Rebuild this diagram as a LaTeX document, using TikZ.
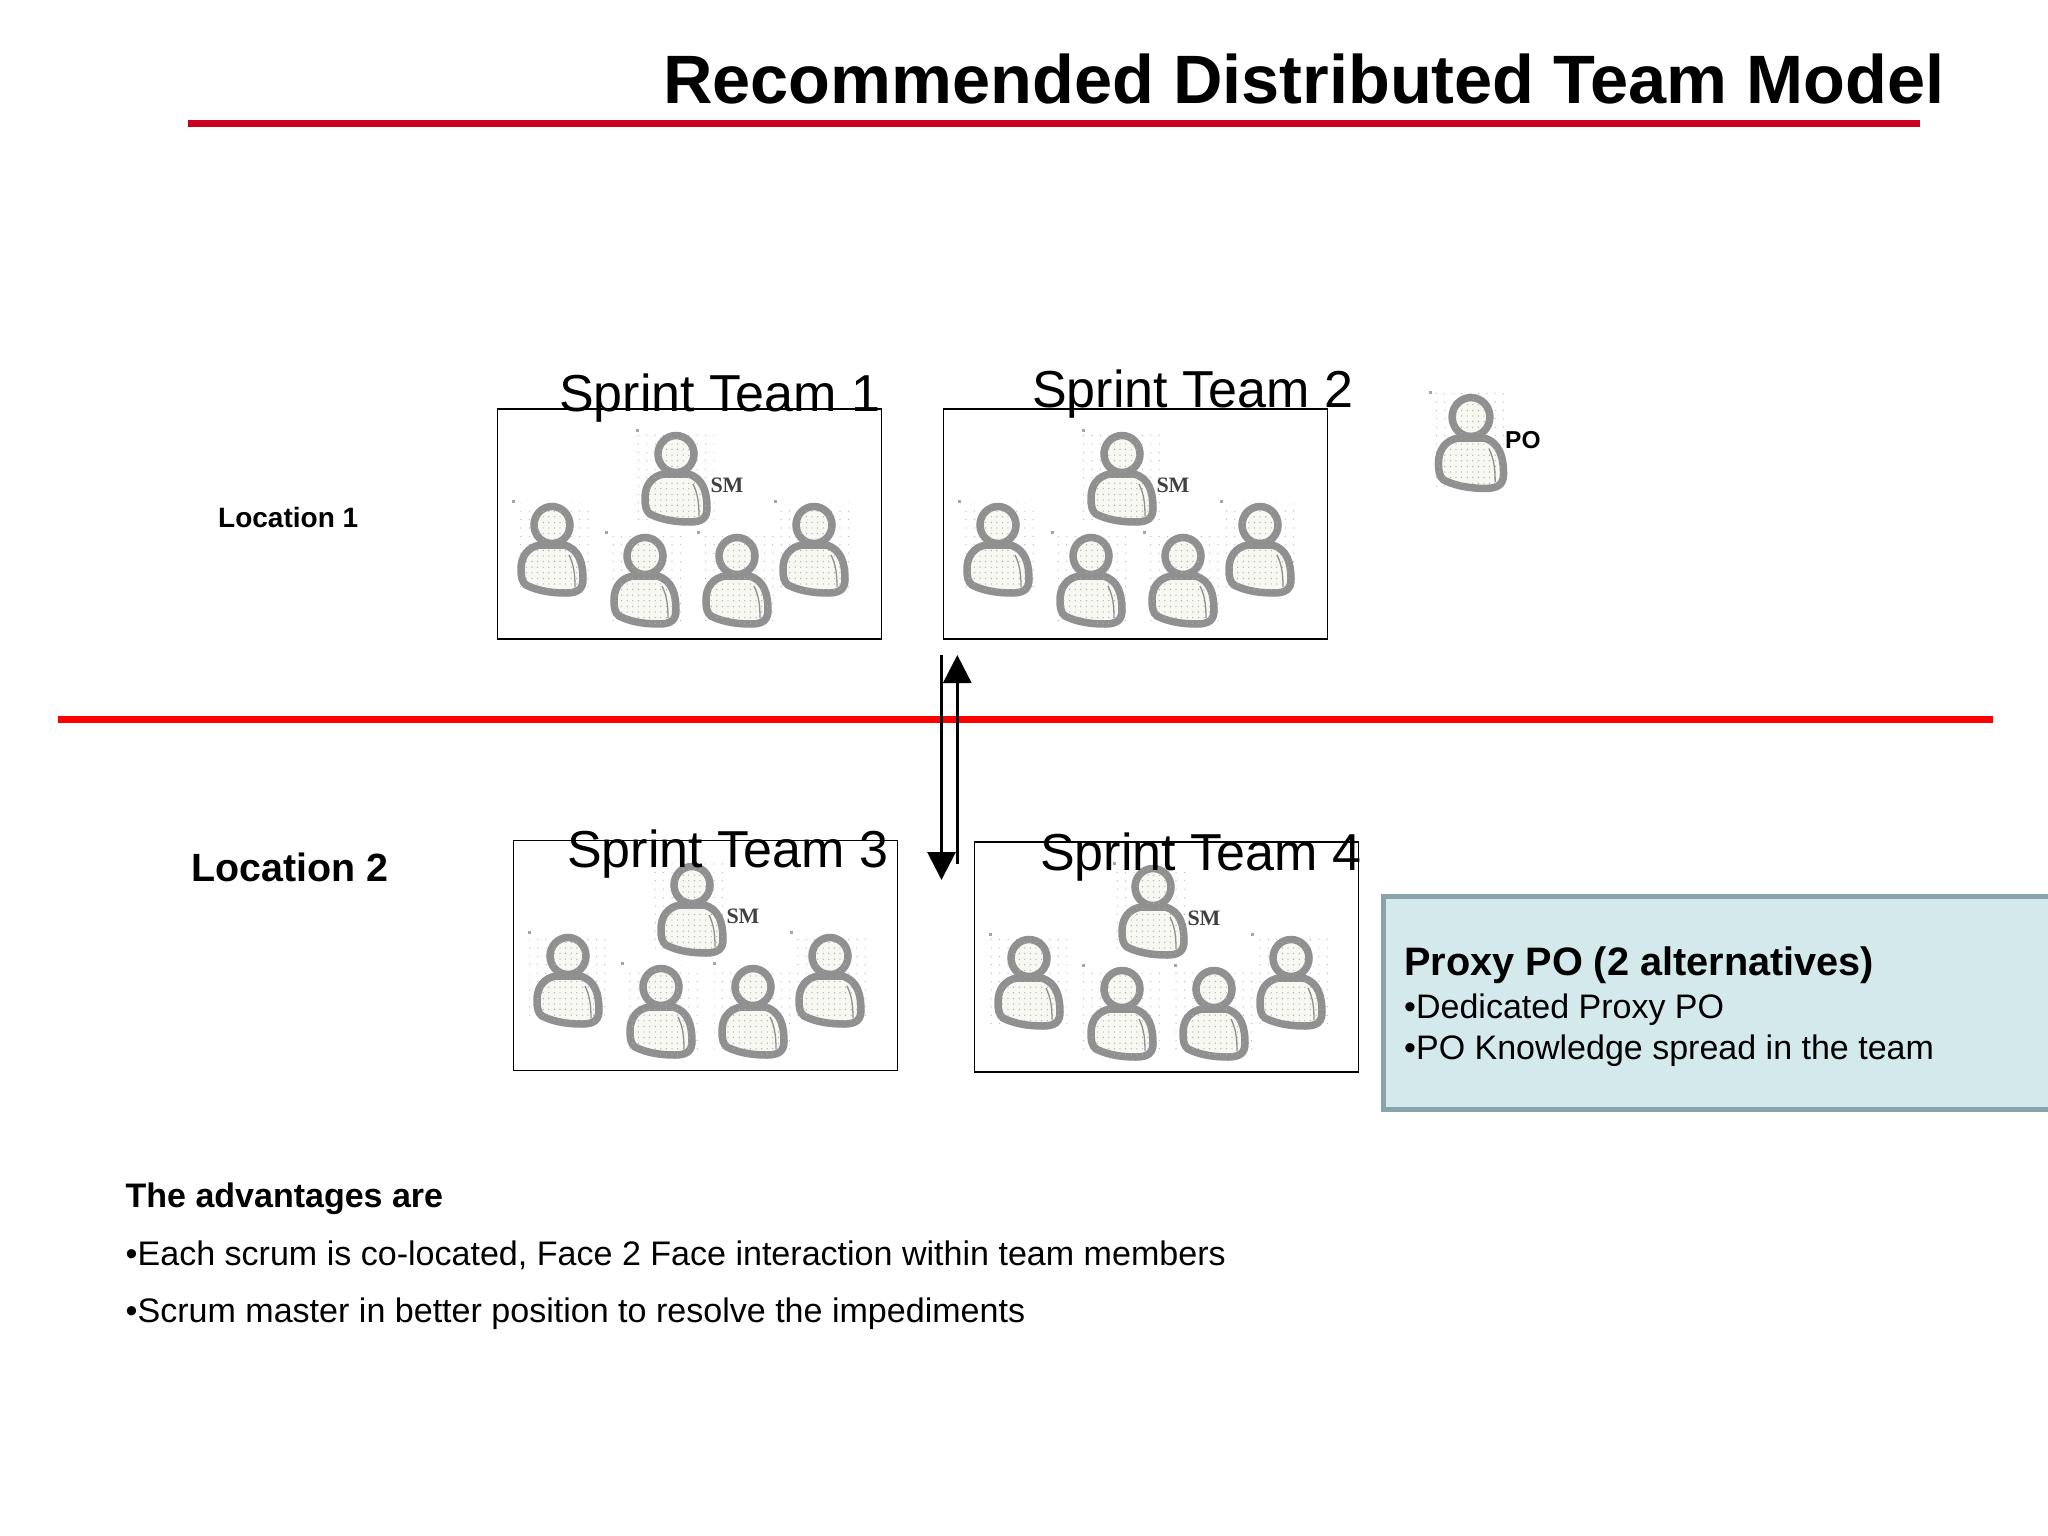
\documentclass[tikz,border=0pt]{standalone}
\usepackage{fontspec}
\setmainfont{Liberation Sans}
\newfontfamily\smfont{Liberation Serif}
\usetikzlibrary{patterns,arrows.meta}
\pgfdeclarepatternformonly{fine dots}{\pgfqpoint{-1pt}{-1pt}}{\pgfqpoint{1pt}{1pt}}{\pgfqpoint{5.6pt}{5.6pt}}{\pgfpathcircle{\pgfpointorigin}{0.7pt}\pgfusepath{fill}}
\pgfdeclarepatternformonly{sparse dots}{\pgfqpoint{-1pt}{-1pt}}{\pgfqpoint{1pt}{1pt}}{\pgfqpoint{8.4pt}{8.4pt}}{\pgfpathcircle{\pgfpointorigin}{0.6pt}\pgfusepath{fill}}
\definecolor{personline}{HTML}{909090}
\definecolor{personfill}{HTML}{F8F8F2}
\definecolor{titlered}{HTML}{C8001E}
\definecolor{boxfill}{HTML}{D3E9EC}
\definecolor{boxline}{HTML}{8AA4AB}
\newcommand{\bodypath}{(-12,20) .. controls (-24,22) and (-31,31) .. (-31,44) .. controls (-31,52) and (-30,57) .. (-26,60) .. controls (-18,64) and (-6,68) .. (14,68) .. controls (26,68) and (31,64) .. (31,54) .. controls (31,40) and (28,24) .. (12,20) -- cycle}
\newcommand{\headpath}{(0,0) ellipse [x radius=18, y radius=18.5]}
\tikzset{
  x=1pt,y=-1pt,
  person/.pic={
    \fill[pattern=sparse dots,pattern color=black!32] (-39,-22) rectangle (38,66);
    \fill[gray!70] (-40,-25) rectangle (-37,-22);
    \fill[personfill] \bodypath;
    \draw[personline,line width=7.5pt] \bodypath;
    \fill[pattern=fine dots,pattern color=black!32] \bodypath;
    \draw[personline,line width=1.3pt] (17,30) .. controls (22,40) and (23,50) .. (23,62);
    \fill[personfill] \headpath;
    \draw[personline,line width=7.5pt] \headpath;
    \fill[pattern=fine dots,pattern color=black!32] \headpath;
  },
  teambox/.style={draw=black,line width=1.6pt,fill=white,minimum width=384pt,minimum height=230pt,inner sep=0pt,anchor=north west},
  teamlabel/.style={font=\fontsize{52}{52}\selectfont,anchor=base west,inner sep=0pt},
  smlabel/.style={font=\smfont\bfseries\fontsize{22}{22}\selectfont,text=black!75,inner sep=0pt},
  plain/.style={anchor=base west,inner sep=0pt},
  flow/.style={line width=3pt,-{Triangle[length=28pt,width=28pt]},shorten >=0pt},
  rule/.style={line width=7pt},
}
\begin{document}
\begin{tikzpicture}
\useasboundingbox (0,0) rectangle (2048,1536);
\fill[white] (0,0) rectangle (2048,1536);

\node[plain,font=\bfseries\fontsize{68.5}{70}\selectfont] (title) at (663,104) {Recommended Distributed Team Model};
\coordinate (ruleAa) at (188,124);
\coordinate (ruleAb) at (1920,124);
\draw[rule,draw=titlered] (ruleAa) -- (ruleAb);

\node[teambox] (box1) at (496.5,408) {};
\node[teambox] (box2) at (942.5,408) {};
\node[teambox] (box3) at (512.5,839.5) {};
\node[teambox] (box4) at (973.5,841) {};

\foreach \ox/\oy in {0/0,446/0,16/431,477/433}{
  \begin{scope}[shift={(\ox,\oy)}]
    \pic at (676,454) {person};
    \pic at (552,525) {person};
    \pic at (645,556) {person};
    \pic at (737,556) {person};
    \pic at (814,525) {person};
  \end{scope}
}
\node[smlabel] (sm1) at (727,485) {SM};
\node[smlabel] (sm2) at (1173,485) {SM};
\node[smlabel] (sm3) at (743,916) {SM};
\node[smlabel] (sm4) at (1204,918) {SM};

\node[teamlabel] (lab1) at (559,411) {Sprint Team 1};
\node[teamlabel] (lab2) at (1032,407) {Sprint Team 2};
\node[teamlabel] (lab3) at (567,867) {Sprint Team 3};
\node[teamlabel] (lab4) at (1040,870) {Sprint Team 4};

\pic[scale=1.05] at (1471,417) {person};
\node[plain,font=\bfseries\fontsize{24.5}{24}\selectfont] (po) at (1505,448) {PO};

\node[plain,font=\bfseries\fontsize{28}{28}\selectfont] (loc1) at (218,527) {Location 1};
\node[plain,font=\bfseries\fontsize{39.4}{40}\selectfont] (loc2) at (191,881) {Location 2};

\coordinate (ruleBa) at (58,719.5);
\coordinate (ruleBb) at (1993,719.5);
\draw[rule,draw=red] (ruleBa) -- (ruleBb);

\coordinate (downA) at (941.5,655);
\coordinate (downB) at (941.5,880);
\coordinate (upA) at (957.3,864);
\coordinate (upB) at (957.3,655);
\draw[flow] (downA) -- (downB);
\draw[flow] (upA) -- (upB);

\node[draw=boxline,fill=boxfill,line width=5pt,anchor=north west,inner sep=0pt,minimum width=680pt,minimum height=213pt] (proxy) at (1380.5,893.5) {};
\node[plain,font=\bfseries\fontsize{39.7}{40}\selectfont] (proxyT) at (1404,975) {Proxy PO (2 alternatives)};
\node[plain,font=\fontsize{34}{34}\selectfont] (proxyA) at (1404,1018) {•Dedicated Proxy PO};
\node[plain,font=\fontsize{34}{34}\selectfont] (proxyB) at (1404,1059) {•PO Knowledge spread in the team};

\node[plain,font=\bfseries\fontsize{34}{34}\selectfont] (advT) at (125.5,1207) {The advantages are};
\node[plain,font=\fontsize{34.05}{34}\selectfont] (advA) at (125.5,1265) {•Each scrum is co-located, Face 2 Face interaction within team members};
\node[plain,font=\fontsize{34.05}{34}\selectfont] (advB) at (125.5,1322) {•Scrum master in better position to resolve the impediments};
\end{tikzpicture}
\end{document}
